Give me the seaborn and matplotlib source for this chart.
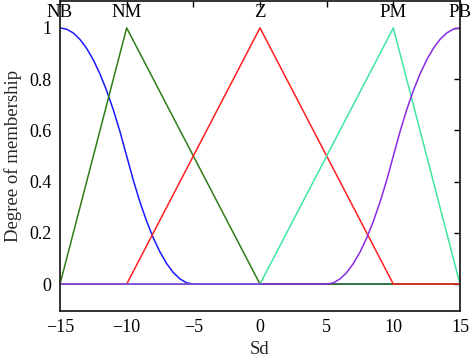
import matplotlib
matplotlib.use("Agg")
import matplotlib.pyplot as plt
import seaborn as sns
import pandas as pd

sns.set_theme(style="white")
plt.rcParams['font.family'] = ['Liberation Serif', 'DejaVu Serif']

# Membership function labels and peak positions
labels = ["NB", "NM", "Z", "PM", "PB"]
label_x = [-15, -10, 0, 10, 15]
colors = ["#1a1aff", "#2e7d16", "#ff2020", "#40e6a0", "#8a2be2"]

# NB (z-shaped) sampled points
nb_x = [-15, -14.5, -14, -13.5, -13, -12.5, -12, -11.5, -11, -10.5, -10,
        -9.5, -9, -8.5, -8, -7.5, -7, -6.5, -6, -5.5, -5, 15]
nb_y = [1.0, 0.995, 0.98, 0.955, 0.92, 0.875, 0.82, 0.755, 0.68, 0.595, 0.5,
        0.405, 0.32, 0.245, 0.18, 0.125, 0.08, 0.045, 0.02, 0.005, 0.0, 0.0]
# NM, Z, PM triangles
nm_x = [-15, -10, 0, 15]
nm_y = [0, 1, 0, 0]
z_x = [-15, -10, 0, 10, 15]
z_y = [0, 0, 1, 0, 0]
pm_x = [-15, 0, 10, 15]
pm_y = [0, 0, 1, 0]
# PB (s-shaped) sampled points
pb_x = [-15, 5, 5.5, 6, 6.5, 7, 7.5, 8, 8.5, 9, 9.5, 10,
        10.5, 11, 11.5, 12, 12.5, 13, 13.5, 14, 14.5, 15]
pb_y = [0.0, 0.0, 0.005, 0.02, 0.045, 0.08, 0.125, 0.18, 0.245, 0.32, 0.405, 0.5,
        0.595, 0.68, 0.755, 0.82, 0.875, 0.92, 0.955, 0.98, 0.995, 1.0]

curves = [(nb_x, nb_y), (nm_x, nm_y), (z_x, z_y), (pm_x, pm_y), (pb_x, pb_y)]

fig = plt.figure(figsize=(4.74, 3.62), dpi=100)
ax = fig.add_axes([60/474, 1-311/362, 400/474, 310/362])

for (xs, ys), c in zip(curves, colors):
    df = pd.DataFrame({"x": xs, "y": ys})
    sns.lineplot(data=df, x="x", y="y", color=c, linewidth=1.1, ax=ax,
                 estimator=None, sort=False)

for lab, lx in zip(labels, label_x):
    ax.text(lx, 1.025, lab, ha="center", va="bottom", fontsize=13.5, color="black")

ax.set_xlim(-15, 15)
ax.set_ylim(-0.105, 1.105)
ax.set_xticks([-15, -10, -5, 0, 5, 10, 15])
ax.set_xticklabels(["\u221215", "\u221210", "\u22125", "0", "5", "10", "15"])
ax.set_yticks([0, 0.2, 0.4, 0.6, 0.8, 1])
ax.set_yticklabels(["0", "0.2", "0.4", "0.6", "0.8", "1"])
ax.tick_params(direction="in", length=4, width=1, top=True, right=True,
               labelsize=13, colors="black", pad=6)
for s in ax.spines.values():
    s.set_visible(True)
    s.set_color("#222222")
    s.set_linewidth(1.3)
ax.set_xlabel("Sd", fontsize=13.5, labelpad=3)
ax.set_ylabel("Degree of membership", fontsize=13.5, labelpad=5)
ax.grid(False)

fig.savefig("out.png", dpi=100)
